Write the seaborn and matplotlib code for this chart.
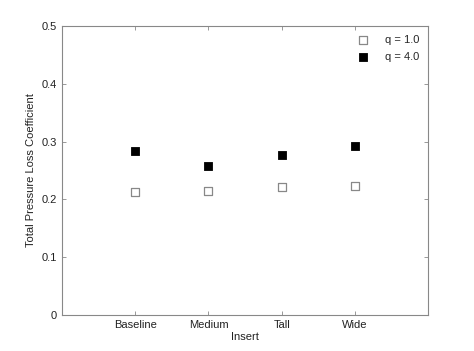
import pandas as pd
import matplotlib.pyplot as plt
import seaborn as sns

# Dados
inserts = ["Baseline", "Medium", "Tall", "Wide"]
q1_values = [0.212, 0.214, 0.221, 0.223]
q4_values = [0.284, 0.257, 0.276, 0.292]

df = pd.DataFrame({
    "Insert": inserts * 2,
    "coef": q1_values + q4_values,
    "serie": ["q = 1.0"] * 4 + ["q = 4.0"] * 4,
})
df["pos"] = df["Insert"].map({nome: i for i, nome in enumerate(inserts)})

sns.set_style("white")
plt.rcParams["font.family"] = ["Liberation Sans", "DejaVu Sans"]

fig, ax = plt.subplots(figsize=(4.74, 3.51), dpi=100)
fig.subplots_adjust(left=0.131, right=0.903, top=0.926, bottom=0.103)

q1 = df[df["serie"] == "q = 1.0"]
q4 = df[df["serie"] == "q = 4.0"]
sns.scatterplot(
    data=q1, x="pos", y="coef", marker="s", s=32,
    facecolor="white", edgecolor="#888888", linewidth=0.9,
    label="q = 1.0", ax=ax,
)
sns.scatterplot(
    data=q4, x="pos", y="coef", marker="s", s=32,
    color="black", edgecolor="black", linewidth=0.6,
    label="q = 4.0", ax=ax,
)

ax.set_xlim(-1, 4)
ax.set_ylim(0, 0.5)
ax.set_xticks(range(len(inserts)))
ax.set_xticklabels(inserts)
ax.set_yticks([0, 0.1, 0.2, 0.3, 0.4, 0.5])
ax.set_yticklabels(["0", "0.1", "0.2", "0.3", "0.4", "0.5"])
ax.set_xlabel("Insert", fontsize=8, color="#222222", labelpad=2)
ax.set_ylabel("Total Pressure Loss Coefficient", fontsize=8, color="#222222", labelpad=4)
ax.tick_params(direction="in", length=3, width=0.6, color="#888888",
               labelsize=8, labelcolor="#222222", top=True, right=True,
               bottom=True, left=True)
for lado in ax.spines.values():
    lado.set_color("#888888")
    lado.set_linewidth(0.8)

leg = ax.legend(loc="upper right", frameon=False, fontsize=8,
                handletextpad=1.0, borderaxespad=0.4, labelspacing=0.6)

fig.savefig("out.png", dpi=100)
plt.close()
